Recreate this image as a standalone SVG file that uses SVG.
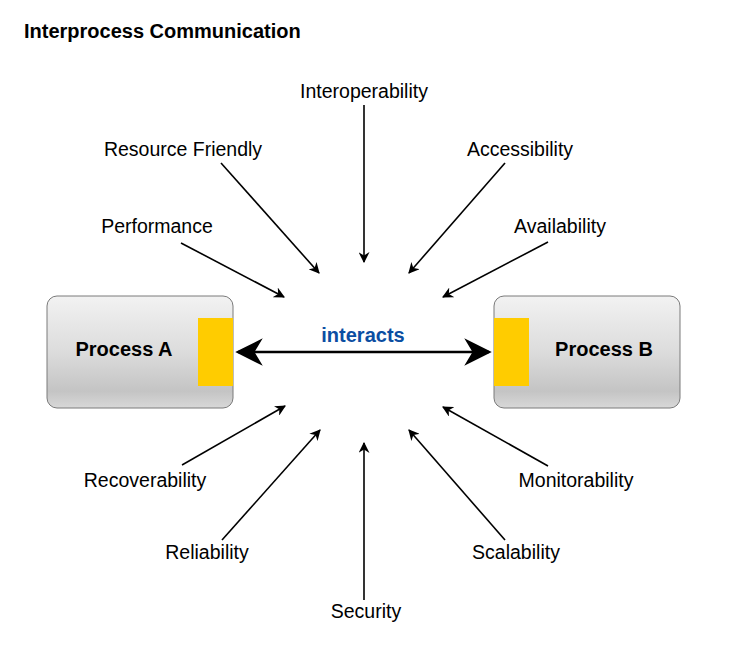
<svg xmlns="http://www.w3.org/2000/svg" width="731" height="664" viewBox="0 0 731 664">
<style>
text{font-family:"Liberation Sans",Arial,sans-serif;fill:#000}
.l{font-size:19.5px;text-anchor:middle}
.a{stroke:#000;stroke-width:1.6;fill:none;marker-end:url(#ah)}
.p{font-size:20px;font-weight:bold;text-anchor:middle}
.box{fill:url(#g);stroke:#7a7a7a;stroke-width:1}
.y{fill:#ffcc00}
</style>
<defs>
<linearGradient id="g" x1="0" y1="0" x2="0" y2="1">
<stop offset="0" stop-color="#f2f2f2"/><stop offset="0.5" stop-color="#dcdcdc"/><stop offset="0.85" stop-color="#c4c4c4"/><stop offset="1" stop-color="#d8d8d8"/>
</linearGradient>
<marker id="ah" viewBox="0 0 10 10" refX="9" refY="5" markerWidth="11" markerHeight="11" orient="auto" markerUnits="userSpaceOnUse"><path d="M0,0 L10,5 L0,10 L3,5 Z" fill="#000"/></marker>
<marker id="big" viewBox="0 0 10 10" refX="9" refY="5" markerWidth="11" markerHeight="11" orient="auto-start-reverse" markerUnits="strokeWidth"><path d="M0,0 L10,5 L0,10 L3,5 Z" fill="#000"/></marker>
</defs>
<text x="24" y="38" style="font-size:20px;font-weight:bold">Interprocess Communication</text>
<g id="processA"><rect class="box" x="47" y="296" width="186" height="112" rx="10"/><rect class="y" x="198" y="318" width="35" height="68"/><text class="p" x="124" y="356">Process A</text></g>
<g id="processB"><rect class="box" x="494" y="296" width="186" height="112" rx="10"/><rect class="y" x="494" y="318" width="35" height="68"/><text class="p" x="604" y="356">Process B</text></g>
<g id="labels">
<text class="l" x="364" y="98">Interoperability</text>
<text class="l" x="183" y="156">Resource Friendly</text>
<text class="l" x="520" y="156">Accessibility</text>
<text class="l" x="157" y="233">Performance</text>
<text class="l" x="560" y="233">Availability</text>
<text class="l" x="145" y="487">Recoverability</text>
<text class="l" x="576" y="487">Monitorability</text>
<text class="l" x="207" y="559">Reliability</text>
<text class="l" x="516" y="559">Scalability</text>
<text class="l" x="366" y="618">Security</text>
</g>
<g id="connectors">
<line x1="238" y1="352" x2="489" y2="352" stroke="#000" stroke-width="2.5" marker-start="url(#big)" marker-end="url(#big)"/>
<text x="363" y="342" style="font-size:20px;font-weight:bold;fill:#0b4ea2;text-anchor:middle">interacts</text>
<line class="a" x1="364" y1="105" x2="364" y2="262"/>
<line class="a" x1="221" y1="163" x2="319" y2="273"/>
<line class="a" x1="505" y1="163" x2="409" y2="273"/>
<line class="a" x1="181" y1="243" x2="284" y2="297"/>
<line class="a" x1="548" y1="242" x2="443" y2="297"/>
<line class="a" x1="182" y1="465" x2="285" y2="406"/>
<line class="a" x1="222" y1="540" x2="320" y2="430"/>
<line class="a" x1="548" y1="466" x2="443" y2="407"/>
<line class="a" x1="505" y1="540" x2="409" y2="430"/>
<line class="a" x1="364" y1="600" x2="364" y2="443"/>
</g>
</svg>
